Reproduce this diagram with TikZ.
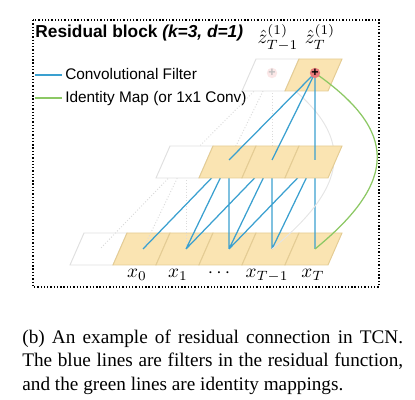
\documentclass[tikz,border=0pt]{standalone}
\usepackage{fontspec}
\setmainfont{Liberation Serif}
\setsansfont{Liberation Sans}
\definecolor{cellfill}{RGB}{250,228,178}
\definecolor{celledge}{RGB}{228,204,148}
\definecolor{filterblue}{RGB}{58,160,208}
\definecolor{identgreen}{RGB}{140,200,100}
\definecolor{sumred}{RGB}{232,122,122}
\begin{document}
\begin{tikzpicture}[x=0.52pt, y=-0.52pt,
  cell/.style = {draw=celledge, fill=cellfill, line width=0.5pt},
  ghostcell/.style = {draw=black!12, fill=white, line width=0.5pt},
  filter/.style = {filterblue, line width=0.65pt},
  identity/.style = {identgreen, line width=0.65pt},
  ghostline/.style = {black!14, densely dotted, line width=0.5pt},
  ghostarc/.style = {black!10, line width=0.5pt},
  legendtext/.style = {anchor=base west, inner sep=1.5pt,
    font=\sffamily\fontsize{8}{9}\selectfont},
  sumdot/.style = {circle, fill=sumred, inner sep=0pt, minimum size=5.4pt,
    font=\sffamily\bfseries\fontsize{6.5}{6.5}\selectfont},
  frame/.style = {densely dotted, line width=0.7pt}]
  \useasboundingbox (0,0) rectangle (415,400);
  \draw[frame] (33,20) rectangle (379,287);
  % title and legend
  \node[anchor=base west, inner sep=0pt,
    font=\sffamily\bfseries\fontsize{9}{10}\selectfont] (title) at (35,38)
    {Residual block \textit{(k=3, d=1)}};
  \coordinate (convstart) at (35,75);
  \coordinate (identstart) at (35,98);
  \node[legendtext] (convlabel) at (62,80) {Convolutional Filter};
  \node[legendtext] (identlabel) at (62,103) {Identity Map (or 1x1 Conv)};
  \draw[filter] (convstart) -- (convstart -| convlabel.west);
  \draw[identity] (identstart) -- (identstart -| identlabel.west);
  % centres of the cells
  \foreach \i in {0,...,4}
    \coordinate (x\i) at ({143+43*\i},249);
  \coordinate (xg) at (100,249);
  \foreach \i in {2,3,4}
    \coordinate (h\i) at ({143+43*\i},160);
  \coordinate (hg) at (186,160);
  \coordinate (zT) at (315,73);
  \coordinate (zg) at (272,73);
  % input row
  \draw[ghostcell] (70,265) -- ++(43,0) -- ++(14,-32) -- ++(-43,0) -- cycle;
  \foreach \i in {0,...,4}
    \draw[cell] ({113+43*\i},265) -- ++(43,0) -- ++(14,-32) -- ++(-43,0) -- cycle;
  \foreach \j in {xg,x0,x1}
    \draw[ghostline] (hg) -- (\j);
  \draw[filter] (h2) -- (x0) (h2) -- (x1) (h2) -- (x2)
    (h3) -- (x1) (h3) -- (x2) (h3) -- (x3)
    (h4) -- (x2) (h4) -- (x3) (h4) -- (x4);
  \draw[ghostarc] (zg) .. controls (355,131) and (355,181) .. (x3);
  \foreach \j in {hg,h2,h3}
    \draw[ghostline] (zg) -- (\j);
  % hidden row
  \draw[ghostcell] (156,178) -- ++(43,0) -- ++(14,-32) -- ++(-43,0) -- cycle;
  \foreach \i in {2,3,4}
    \draw[cell] ({113+43*\i},178) -- ++(43,0) -- ++(14,-32) -- ++(-43,0) -- cycle;
  % output row
  \draw[ghostcell] (242,91) -- ++(43,0) -- ++(14,-32) -- ++(-43,0) -- cycle;
  \draw[cell] (285,91) -- ++(43,0) -- ++(14,-32) -- ++(-43,0) -- cycle;
  \draw[filter] (zT) -- (h2) (zT) -- (h3) (zT) -- (h4);
  \draw[identity] (zT) .. controls (398,131) and (398,181) .. (x4);
  \node[sumdot, fill=sumred!18, text=black!25] (ghostsum) at (zg) {+};
  \node[sumdot] (sum) at (zT) {+};
  % labels
  \node[anchor=base] (zlabelg) at (278,44) {$\hat{z}^{(1)}_{T-1}$};
  \node[anchor=base] (zlabel) at (320,44) {$\hat{z}^{(1)}_{T}$};
  \node[anchor=base] (lx0) at (137,278) {$x_0$};
  \node[anchor=base] (lx1) at (178,278) {$x_1$};
  \node[anchor=base] (ldots) at (219,278) {$\cdots$};
  \node[anchor=base] (lxm) at (267,278) {$x_{T-1}$};
  \node[anchor=base] (lxT) at (313,278) {$x_T$};
  % caption
  \node[anchor=north west, inner sep=0pt, text width=198pt, align=justify,
    font=\fontsize{10}{12}\selectfont] (caption) at (22,330)
    {\hyphenpenalty=10000 (b) An example of residual connection in TCN.
     The blue lines are filters in the residual function, and the green
     lines are identity mappings.};
\end{tikzpicture}
\end{document}
